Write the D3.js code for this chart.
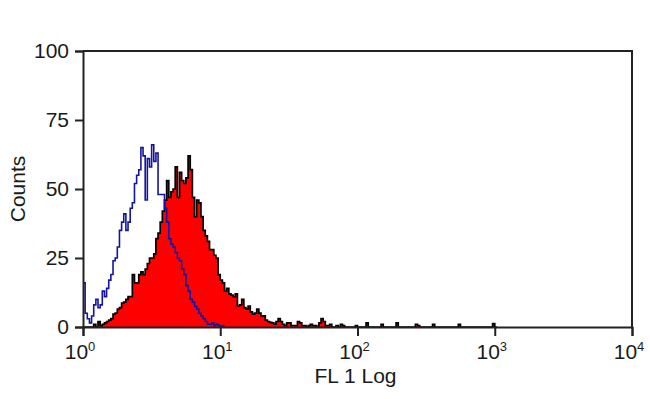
<!DOCTYPE html>
<html>
<head>
<meta charset="utf-8">
<script src="https://cdn.jsdelivr.net/npm/d3@7"></script>
<style>
  body { margin: 0; background: #fff; }
  svg { display: block; font-family: "Liberation Sans", Arial, sans-serif; }
</style>
</head>
<body>
<div class="svg-container"></div>
<script>
// histogram data: 256 log channels over 4 decades
const channelCount = 256;
const decades = [1, 10, 100, 1000, 10000];
const countTicks = [0, 25, 50, 75, 100];

// isotype control (blue outline), channels 0..65
const blueCounts = [
  16, 5, 3, 1.5, 4, 8, 10, 7, 8, 13,
  11, 14, 17, 19, 24, 25, 29, 35, 38, 41,
  35, 38, 43, 45, 52, 55, 57, 65, 62, 46,
  61, 58, 66, 60, 63, 48, 48, 48, 43, 38,
  32, 30, 29, 27, 25, 24, 21, 19, 15, 13,
  10, 9, 7.5, 6.5, 5, 4, 3, 2, 1, 1,
  1.5, 0.5, 1, 0.5, 0, 0.5
];

// stained sample (red filled), channels 0..200
const redCounts = [
  0, 0, 0, 0, 0, 1, 0, 2, 0.5, 1,
  1.5, 2, 2.5, 3, 4.7, 5, 6.5, 7, 8.7, 9,
  10, 11, 11, 19, 16, 16, 19, 20, 19, 21,
  23, 25, 25, 26.5, 32, 34, 38, 42, 46, 53,
  47, 49, 50, 58, 47, 56, 53, 52, 54, 62,
  57, 47, 40, 46, 45, 40, 35, 33, 31, 28,
  28, 26, 25, 19, 17, 16, 13, 14, 12, 11.6,
  11, 12, 7.6, 8, 10, 7, 6.5, 7.6, 5.5, 4.7,
  5, 6.5, 5, 4, 4, 2.5, 2, 1.7, 1.5, 1,
  2, 3, 2, 1, 0.5, 1.5, 1.5, 0.5, 0.5, 0.5,
  2, 1.5, 0.5, 0.5, 0, 0.5, 1, 0.5, 0.5, 0,
  1.5, 3, 2, 0.5, 0.5, 1, 0, 0, 0.5, 0,
  1, 0.5, 0, 0, 0, 0, 0, 0.5, 0, 0,
  0, 0, 1.5, 0, 0, 0, 0, 0, 0, 1,
  0, 0, 0, 0, 0, 0, 1.5, 0, 0, 0,
  0, 0, 0, 0, 0, 1, 0.5, 0, 0, 0,
  0, 0, 0, 1, 0, 0, 0, 0, 0, 0,
  0, 0, 0, 0, 0, 1, 0, 0, 0, 0,
  0, 0, 0, 0, 0, 0, 0, 0, 0, 0,
  0, 1.2, 0
];

const width = 650;
const height = 399;
const margin = { top: 51, right: 18, bottom: 72, left: 83 };
const textColor = '#1a1a1a';

const svg = d3.select('.svg-container')
  .append('svg')
  .attr('width', width)
  .attr('height', height);

const x = d3.scaleLog()
  .domain([1, 10000])
  .range([margin.left, width - margin.right]);

const y = d3.scaleLinear()
  .domain([0, 100])
  .range([height - margin.bottom, margin.top]);

// channel i -> lower edge value on the log axis
const edge = i => Math.pow(10, i * 4 / channelCount);

const toSteps = counts => {
  const pts = counts.map((c, i) => [edge(i), c]);
  pts.push([edge(counts.length), counts[counts.length - 1]]);
  return pts;
};

const area = d3.area()
  .curve(d3.curveStepAfter)
  .x(d => x(d[0]))
  .y0(y(0))
  .y1(d => y(d[1]));

const line = d3.line()
  .curve(d3.curveStepAfter)
  .x(d => x(d[0]))
  .y(d => y(d[1]));

// red filled histogram
svg.append('path')
  .datum(toSteps(redCounts))
  .attr('d', area)
  .attr('fill', '#ff0000');

svg.append('path')
  .datum(toSteps(redCounts))
  .attr('d', line)
  .attr('fill', 'none')
  .attr('stroke', '#000')
  .attr('stroke-width', 1.7);

// blue outline histogram
svg.append('path')
  .datum(toSteps(blueCounts))
  .attr('d', line)
  .attr('fill', 'none')
  .attr('stroke', '#1414a0')
  .attr('stroke-width', 1.6);

// frame: top and right
svg.append('path')
  .attr('d', `M${x(1)},${y(100)}H${x(10000)}V${y(0)}`)
  .attr('fill', 'none')
  .attr('stroke', '#222')
  .attr('stroke-width', 2);

// y axis
const yAxis = svg.append('g')
  .attr('transform', `translate(${x(1)},0)`)
  .call(d3.axisLeft(y).tickValues(countTicks).tickSize(8).tickPadding(6));

// x axis (labels drawn separately for superscripts)
svg.append('g')
  .attr('transform', `translate(0,${y(0)})`)
  .call(d3.axisBottom(x).tickValues(decades).tickSize(9).tickFormat(''));

svg.selectAll('.domain, .tick line')
  .attr('stroke', '#222')
  .attr('stroke-width', 2);

yAxis.selectAll('text')
  .attr('font-size', 21)
  .attr('fill', textColor)
  .attr('font-family', '"Liberation Sans", Arial, sans-serif');

const xLabels = svg.append('g')
  .attr('font-size', 21)
  .attr('fill', textColor);

xLabels.selectAll('text')
  .data(decades)
  .enter()
  .append('text')
  .attr('x', d => x(d) - 3)
  .attr('y', y(0) + 32)
  .attr('text-anchor', 'middle')
  .each(function (d) {
    const t = d3.select(this);
    t.append('tspan').text('10');
    t.append('tspan')
      .attr('font-size', 13)
      .attr('dy', -8)
      .text(Math.round(Math.log10(d)));
  });

// axis titles
svg.append('text')
  .attr('x', (x(1) + x(10000)) / 2 - 2)
  .attr('y', 383)
  .attr('text-anchor', 'middle')
  .attr('font-size', 21)
  .attr('fill', textColor)
  .text('FL 1 Log');

svg.append('text')
  .attr('transform', `translate(25,${(y(0) + y(100)) / 2}) rotate(-90)`)
  .attr('text-anchor', 'middle')
  .attr('font-size', 21)
  .attr('fill', textColor)
  .text('Counts');
</script>
</body>
</html>
